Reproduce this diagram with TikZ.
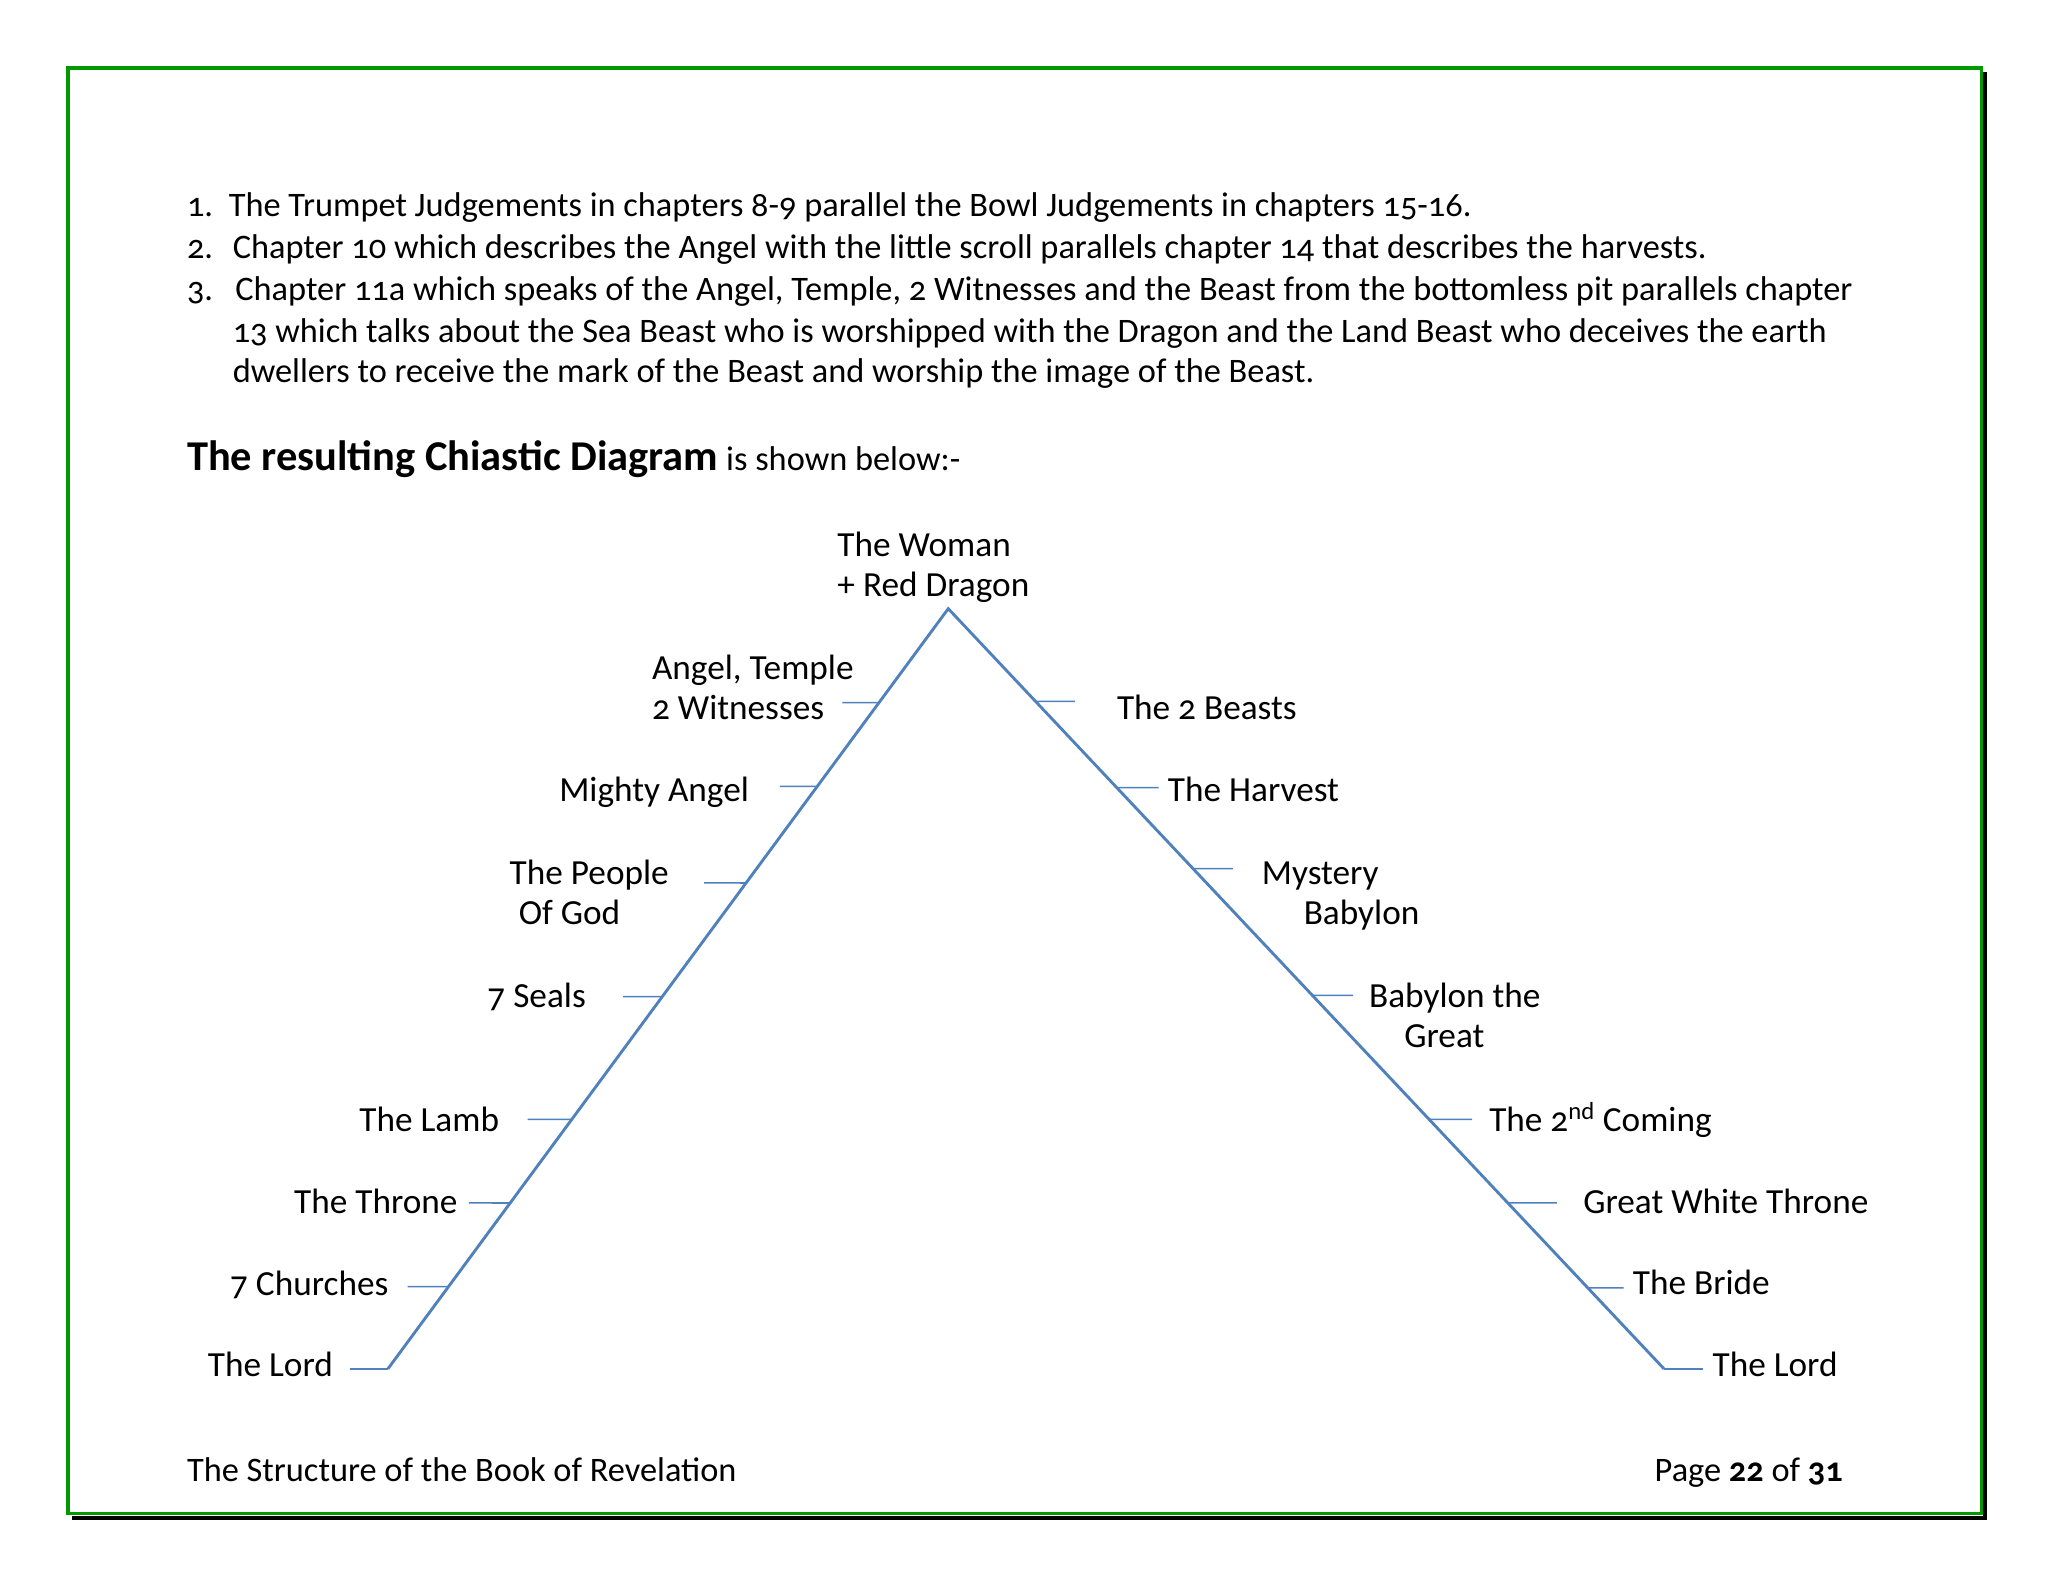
\documentclass[tikz,border=0pt]{standalone}
\usepackage{fontspec}
\setmainfont{Carlito}[Numbers=OldStyle]
\begin{document}
\begin{tikzpicture}[x=1pt,y=-1pt,
  tri/.style={draw={rgb,255:red,79;green,129;blue,189},line width=2.2pt},
  tick/.style={draw={rgb,255:red,79;green,129;blue,189},line width=1.2pt},
  lab/.style={anchor=base west,inner sep=0pt,font=\fontsize{27}{31}\selectfont},
  txt/.style={anchor=base west,inner sep=0pt,font=\fontsize{26.3}{30}\selectfont}]
\useasboundingbox (0,0) rectangle (1568,1211);
\fill[white] (0,0) rectangle (1568,1211);
\draw[black,line width=3pt] (55,1162) -- (1520,1162) -- (1520,55);
\draw[green!60!black,line width=2.5pt] (52,52) rectangle (1517,1159);
% text
\node[txt] (n1) at (143,166) {1.};
\node[txt] (t1) at (175,166) {The Trumpet Judgements in chapters 8-9 parallel the Bowl Judgements in chapters 15-16.};
\node[txt] (n2) at (143,198) {2.};
\node[txt] (t2) at (178,198) {Chapter 10 which describes the Angel with the little scroll parallels chapter 14 that describes the harvests.};
\node[txt] (n3) at (143,230) {3.};
\node[txt] (t3) at (180,230) {Chapter 11a which speaks of the Angel, Temple, 2 Witnesses and the Beast from the bottomless pit parallels chapter};
\node[txt] (t4) at (178,262) {13 which talks about the Sea Beast who is worshipped with the Dragon and the Land Beast who deceives the earth};
\node[txt] (t5) at (178,293) {dwellers to receive the mark of the Beast and worship the image of the Beast.};
\node[txt] (hd) at (143,360) {{\fontsize{32.5}{36}\selectfont\bfseries The resulting Chiastic Diagram} is shown below:-};
% triangle
\coordinate (A) at (726,466);
\coordinate (L) at (297,1048);
\coordinate (R) at (1274,1048);
\draw[tri] (L) -- (A) -- (R);
\foreach \y/\x in {538/645,602/597,676/539,763/477,857/404,921/359,985/312,1048/268}{
  \path (L) -- (A) coordinate[pos={(1048-\y)/582}] (lp\y);
  \draw[tick] (\x,\y) coordinate (ls\y) -- (lp\y);}
\foreach \y/\x in {537/823,603/887,665/944,762/1036,857/1127,921/1192,986/1243,1048/1304}{
  \path (A) -- (R) coordinate[pos={(\y-466)/582}] (rp\y);
  \draw[tick] (rp\y) -- (\x,\y) coordinate (re\y);}
% labels
\node[lab] (w1) at (641,426) {The Woman};
\node[lab] (w2) at (641,457) {+ Red Dragon};
\node[lab] (a1) at (499,520) {Angel, Temple};
\node[lab] (a2) at (499,551) {2 Witnesses};
\node[lab] (a3) at (428,614) {Mighty Angel};
\node[lab] (a4) at (390,677) {The People};
\node[lab] (a5) at (397,708) {Of God};
\node[lab] (a6) at (373,771) {7 Seals};
\node[lab] (a7) at (275,866) {The Lamb};
\node[lab] (a8) at (225,929) {The Throne};
\node[lab] (a9) at (176,992) {7 Churches};
\node[lab] (a10) at (159,1054) {The Lord};
\node[lab] (b1) at (855,551) {The 2 Beasts};
\node[lab] (b2) at (894,614) {The Harvest};
\node[lab] (b3) at (966,677) {Mystery};
\node[lab] (b4) at (998,708) {Babylon};
\node[lab] (b5) at (1048,771) {Babylon the};
\node[lab] (b6) at (1075,802) {Great};
\node[lab] (b7) at (1140,866) {The 2\textsuperscript{nd} Coming};
\node[lab] (b8) at (1212,929) {Great White Throne};
\node[lab] (b9) at (1250,991) {The Bride};
\node[lab] (b10) at (1311,1054) {The Lord};
% footer
\node[txt] (f1) at (143,1134) {The Structure of the Book of Revelation};
\node[txt,anchor=base east] (f2) at (1411,1134) {Page \textbf{22} of \textbf{31}};
\end{tikzpicture}
\end{document}
